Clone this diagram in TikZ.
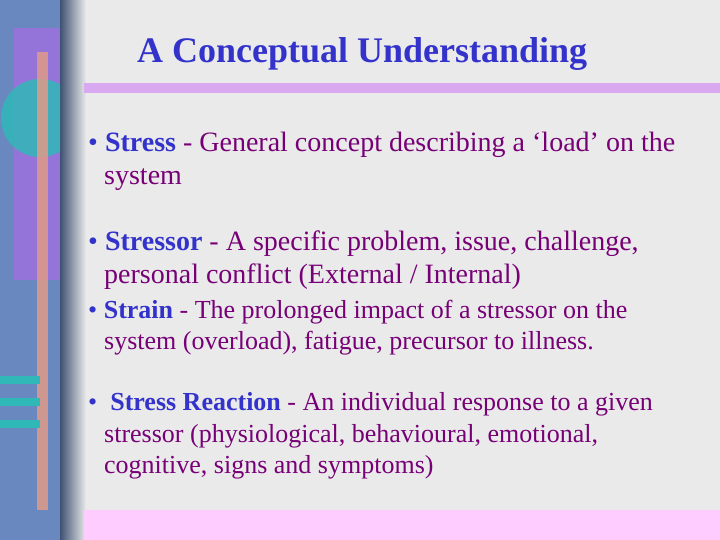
\documentclass[tikz,border=0pt]{standalone}
\usepackage{fontspec}
\setmainfont{Liberation Serif}
\definecolor{bg}{HTML}{EAEAEA}
\definecolor{tblue}{HTML}{3333CC}
\definecolor{tpurp}{HTML}{770077}
\definecolor{lav}{HTML}{D8A8F0}
\definecolor{pinkb}{HTML}{FFCCFF}
\definecolor{strip}{HTML}{6A88C0}
\definecolor{purp}{HTML}{A070E0}
\definecolor{orng}{HTML}{E09A88}
\definecolor{teal}{HTML}{30B8B8}
\tikzset{
 txt/.style={anchor=base west,inner sep=0pt,text=tpurp},
 b/.style={font=\bfseries,text=tblue}}
\begin{document}
\begin{tikzpicture}[x=1pt,y=-1pt]
\useasboundingbox (0,0) rectangle (720,540);
\fill[bg] (0,0) rectangle (720,540);
\shade[left color=strip!60!black, right color=bg] (60,0) rectangle (86,540);
\fill[strip] (0,0) rectangle (60,540);
\fill[purp,opacity=.8] (14,28) rectangle (60,280);
\begin{scope}
\clip (0,0) rectangle (60,540);
\fill[teal,opacity=.85] (40,118) circle (39);
\end{scope}
\fill[orng,opacity=.85] (37,52) rectangle (48,510);
\foreach \y in {376,398,420} \fill[teal] (0,\y) rectangle (40,\y+8);
\fill[lav] (84,83) rectangle (720,93);
\fill[pinkb] (84,510) rectangle (720,540);
\node[txt,b,font=\bfseries\fontsize{36}{38}\selectfont] (title) at (137,63) {A Conceptual Understanding};
\begin{scope}[every node/.append style={font=\fontsize{28}{30}\selectfont}]
\node[txt] (s1) at (88,152) {\textcolor{tblue}{• \textbf{Stress}} - General concept describing a ‘load’ on the};
\node[txt] (s2) at (104,185) {system};
\node[txt] (r1) at (88,250) {\textcolor{tblue}{• \textbf{Stressor}} - A specific problem, issue, challenge,};
\node[txt] (r2) at (104,283) {personal conflict (External / Internal)};
\end{scope}
\begin{scope}[every node/.append style={font=\fontsize{26}{28}\selectfont}]
\node[txt] (t1) at (88,318) {\textcolor{tblue}{• \textbf{Strain}} - The prolonged impact of a stressor on the};
\node[txt] (t2) at (104,349) {system (overload), fatigue, precursor to illness.};
\node[txt] (e1) at (88,410) {\textcolor{tblue}{•\ \ \textbf{Stress Reaction}} - An individual response to a given};
\node[txt] (e2) at (104,442) {stressor (physiological, behavioural, emotional,};
\node[txt] (e3) at (104,473) {cognitive, signs and symptoms)};
\end{scope}
\end{tikzpicture}
\end{document}
